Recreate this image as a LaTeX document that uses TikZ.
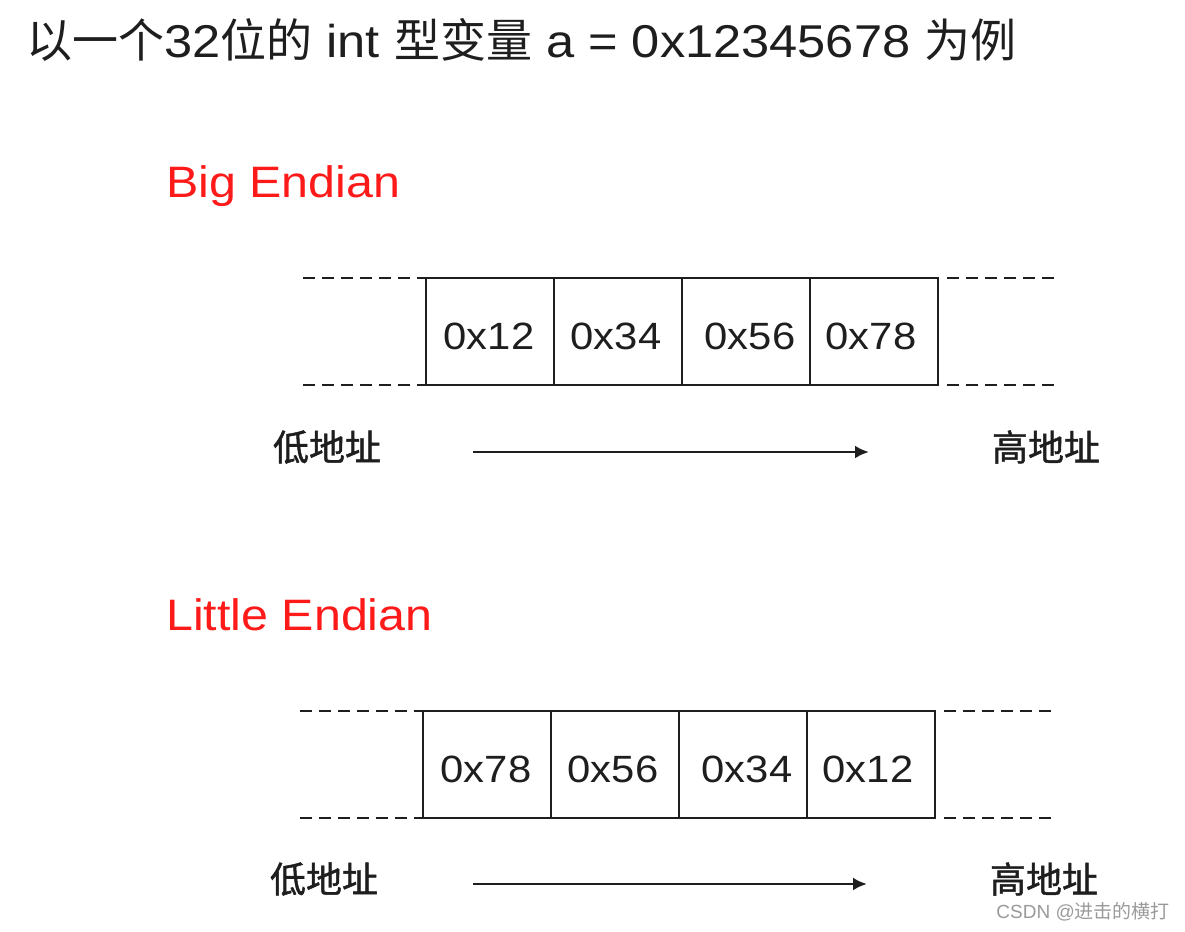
\documentclass[tikz,border=0pt]{standalone}
\usepackage{fontspec}
\setmainfont[FakeStretch=1.1]{Liberation Sans}
\newfontfamily\cjk{Noto Sans CJK SC}
\newfontfamily\cjkb[FakeBold=1.2]{Noto Sans CJK SC}
\newfontfamily\wm{Liberation Sans}
\usetikzlibrary{arrows.meta}
\definecolor{txt}{HTML}{1E1E1E}
\definecolor{redlab}{HTML}{FF1A1A}
\definecolor{wmgray}{HTML}{9A9A9A}
\tikzset{
  cell/.style={draw=txt, line width=2.3pt},
  guide/.style={draw=txt, line width=2.2pt, dash pattern=on 12pt off 7pt},
  bytelab/.style={inner sep=0pt, anchor=center, text=txt, font=\fontsize{38}{40}\selectfont},
  addr/.style={inner sep=0pt, anchor=center, text=txt, font=\cjkb\fontsize{36}{40}\selectfont},
  endlab/.style={inner sep=0pt, anchor=base west, text=redlab, font=\fontsize{44}{48}\selectfont},
  dirarrow/.style={draw=txt, line width=2.8pt, -{Latex[length=14pt,width=13pt]}},
}
\begin{document}
\begin{tikzpicture}[x=1pt,y=-1pt]
\useasboundingbox (0,0) rectangle (1185,931);
% title
\node[inner sep=0pt, anchor=west, text=txt] (title) at (26,40)
  {\fontsize{46}{50}\selectfont{\cjk 以一个}32{\cjk 位的} int {\cjk 型变量} a = 0x12345678 {\cjk 为例}};

% ---------- Big Endian ----------
\node[endlab] (bigl) at (166,197) {Big Endian};
\coordinate (b0t) at (426,278); \coordinate (b0b) at (426,385);
\coordinate (b4t) at (938,278); \coordinate (b4b) at (938,385);
\coordinate (bdl1) at (303,278); \coordinate (bdl2) at (303,385);
\coordinate (bdr1) at (1058,278); \coordinate (bdr2) at (1058,385);
\draw[guide] (bdl1) -- (b0t);
\draw[guide] (bdl2) -- (b0b);
\draw[guide] ([xshift=9pt]b4t) -- (bdr1);
\draw[guide] ([xshift=9pt]b4b) -- (bdr2);
\draw[cell] (426,278) rectangle (554,385);
\draw[cell] (554,278) rectangle (682,385);
\draw[cell] (682,278) rectangle (810,385);
\draw[cell] (810,278) rectangle (938,385);
\node[bytelab] (b1) at (489,336) {0x12};
\node[bytelab] (b2) at (616,336) {0x34};
\node[bytelab] (b3) at (750,336) {0x56};
\node[bytelab] (b4) at (871,336) {0x78};
\node[addr] (blow) at (327,447) {低地址};
\node[addr] (bhigh) at (1046,447) {高地址};
\coordinate (ba1) at (473,452); \coordinate (ba2) at (869,452);
\draw[dirarrow] (ba1) -- (ba2);

% ---------- Little Endian ----------
\node[endlab] (litl) at (166,630) {Little Endian};
\coordinate (l0t) at (423,711); \coordinate (l0b) at (423,818);
\coordinate (l4t) at (935,711); \coordinate (l4b) at (935,818);
\coordinate (ldl1) at (300,711); \coordinate (ldl2) at (300,818);
\coordinate (ldr1) at (1056,711); \coordinate (ldr2) at (1056,818);
\draw[guide] (ldl1) -- (l0t);
\draw[guide] (ldl2) -- (l0b);
\draw[guide] ([xshift=9pt]l4t) -- (ldr1);
\draw[guide] ([xshift=9pt]l4b) -- (ldr2);
\draw[cell] (423,711) rectangle (551,818);
\draw[cell] (551,711) rectangle (679,818);
\draw[cell] (679,711) rectangle (807,818);
\draw[cell] (807,711) rectangle (935,818);
\node[bytelab] (l1) at (486,769) {0x78};
\node[bytelab] (l2) at (613,769) {0x56};
\node[bytelab] (l3) at (747,769) {0x34};
\node[bytelab] (l4) at (868,769) {0x12};
\node[addr] (llow) at (324,879) {低地址};
\node[addr] (lhigh) at (1044,879) {高地址};
\coordinate (la1) at (473,884); \coordinate (la2) at (867,884);
\draw[dirarrow] (la1) -- (la2);

% watermark
\node[inner sep=0pt, anchor=east, text=wmgray] (wm) at (1170,912)
  {\wm\fontsize{19}{22}\selectfont CSDN @{\cjk 进击的横打}};
\end{tikzpicture}
\end{document}
